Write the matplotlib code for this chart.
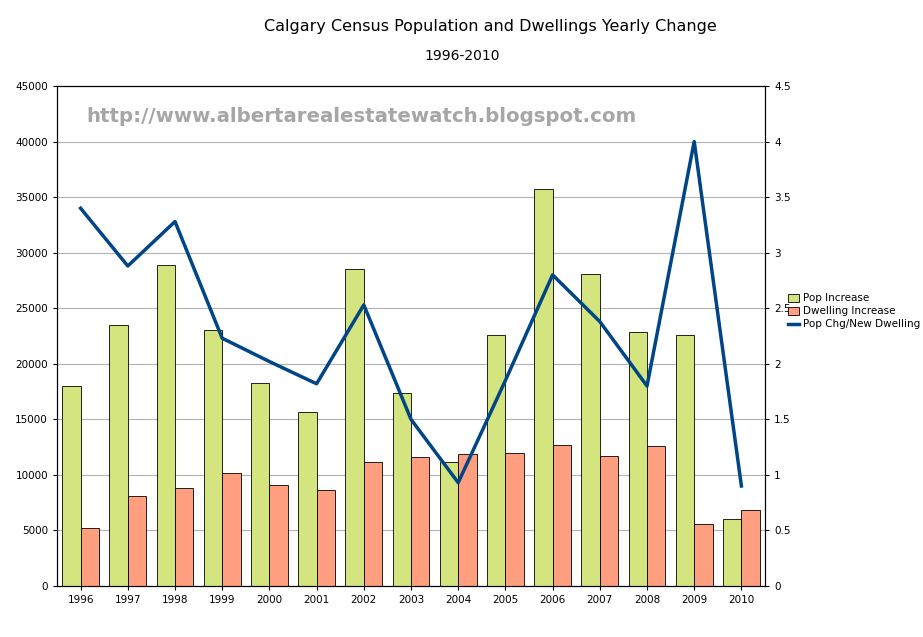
import matplotlib
matplotlib.use("Agg")
import matplotlib.pyplot as plt
import numpy as np

years = ["1996", "1997", "1998", "1999", "2000", "2001", "2002", "2003",
         "2004", "2005", "2006", "2007", "2008", "2009", "2010"]
pop_increase = [18000, 23500, 28900, 23000, 18300, 15700, 28500, 17400,
                11200, 22600, 35700, 28100, 22900, 22600, 6000]
dwelling_increase = [5200, 8100, 8800, 10200, 9100, 8600, 11200, 11600,
                     11900, 12000, 12700, 11700, 12600, 5600, 6800]
pop_per_dwelling = [3.4, 2.88, 3.28, 2.23, 2.02, 1.82, 2.53, 1.5,
                    0.93, 1.85, 2.8, 2.38, 1.8, 4.0, 0.9]

fig = plt.figure(figsize=(9.23, 6.37), dpi=100)
ax = fig.add_axes([57 / 923, 51 / 637, 708 / 923, 500 / 637])
x = np.arange(len(years))
w = 0.39
ax.bar(x - w / 2, pop_increase, w, color="#d4e57f", edgecolor="black", linewidth=0.6, label="Pop Increase", zorder=2)
ax.bar(x + w / 2, dwelling_increase, w, color="#ff9f80", edgecolor="black", linewidth=0.6, label="Dwelling Increase", zorder=2)
ax.set_xlim(-0.5, len(years) - 0.5)
ax.set_ylim(0, 45000)
ax.set_yticks(range(0, 45001, 5000))
ax.set_xticks(x)
ax.set_xticklabels(years)
ax.grid(axis="y", color="#b3b3b3", linewidth=0.8, zorder=0)
ax.tick_params(labelsize=7.5, length=3)

ax2 = ax.twinx()
ax2.plot(x, pop_per_dwelling, color="#004586", linewidth=2.5, label="Pop Chg/New Dwelling")
ax2.set_ylim(0, 4.5)
ax2.set_yticks(np.arange(0, 4.51, 0.5))
ax2.set_yticklabels(["0", "0.5", "1", "1.5", "2", "2.5", "3", "3.5", "4", "4.5"])
ax2.tick_params(labelsize=7.5, length=3)

h1, l1 = ax.get_legend_handles_labels()
h2, l2 = ax2.get_legend_handles_labels()
fig.legend(h1 + h2, l1 + l2, loc="upper left", bbox_to_anchor=(783 / 923, 1 - 288 / 637),
           frameon=False, fontsize=7.5, handlelength=1.0, handleheight=0.8,
           labelspacing=0.3, borderpad=0, handletextpad=0.4)

fig.text(490 / 923, 1 - 27 / 637, "Calgary Census Population and Dwellings Yearly Change",
         ha="center", va="center", fontsize=11.5)
fig.text(462 / 923, 1 - 56 / 637, "1996-2010", ha="center", va="center", fontsize=10)
fig.text(362 / 923, 1 - 116 / 637, "http://www.albertarealestatewatch.blogspot.com",
         ha="center", va="center", fontsize=14.2, fontweight="bold", color="#a6a6a6")

fig.savefig("out.png", dpi=100)
